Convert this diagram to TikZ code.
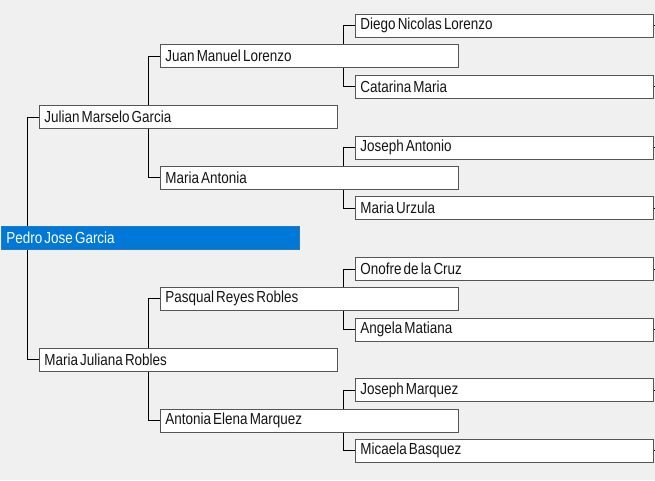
\documentclass[tikz,border=0pt]{standalone}
\usepackage{fontspec}
\setmainfont{Liberation Sans}[FakeStretch=0.84]
\definecolor{bgcol}{HTML}{F0F0F0}
\definecolor{boxline}{HTML}{555555}
\definecolor{selblue}{HTML}{0078D7}
\definecolor{txt}{HTML}{141414}
\pgfdeclarelayer{bg}
\pgfdeclarelayer{lines}
\pgfsetlayers{bg,lines,main}
\begin{document}
\begin{tikzpicture}[x=1pt,y=-1pt,
  pbox/.style={draw=boxline, line width=0.9pt, fill=white, anchor=west,
    minimum width=298pt, minimum height=23pt, text width=288pt,
    inner xsep=5pt, inner ysep=0pt, align=left, text=txt,
    font=\fontsize{16}{17}\selectfont,
    execute at begin node={\spaceskip=2.2pt\relax}},
  selbox/.style={pbox, fill=selblue, draw=selblue!70!gray, text=white},
  link/.style={draw=black, line width=0.9pt}]
\useasboundingbox (0,0) rectangle (655,480);
\begin{pgfonlayer}{bg}
  \fill[bgcol] (0,0) rectangle (655,480);
\end{pgfonlayer}
% generation 0
\node[selbox] (p) at (1,238) {Pedro Jose Garcia};
% generation 1
\node[pbox] (f) at (39,117) {Julian Marselo Garcia};
\node[pbox] (m) at (39,359.5) {Maria Juliana Robles};
% generation 2
\node[pbox] (ff) at (160,56) {Juan Manuel Lorenzo};
\node[pbox] (fm) at (160,177.5) {Maria Antonia};
\node[pbox] (mf) at (160,298.5) {Pasqual Reyes Robles};
\node[pbox] (mm) at (160,420.5) {Antonia Elena Marquez};
% generation 3
\node[pbox] (fff) at (355,25.5) {Diego Nicolas Lorenzo};
\node[pbox] (ffm) at (355,86.5) {Catarina Maria};
\node[pbox] (fmf) at (355,147.5) {Joseph Antonio};
\node[pbox] (fmm) at (355,208) {Maria Urzula};
\node[pbox] (mff) at (355,269) {Onofre de la Cruz};
\node[pbox] (mfm) at (355,329.5) {Angela Matiana};
\node[pbox] (mmf) at (355,390) {Joseph Marquez};
\node[pbox] (mmm) at (355,450.5) {Micaela Basquez};
\begin{pgfonlayer}{lines}
  \draw[link] (f.west) -- ++(-12,0) coordinate (pc) |- (m.west);
  \draw[link] (ff.west) -- ++(-12,0) |- (fm.west);
  \draw[link] (mf.west) -- ++(-12,0) |- (mm.west);
  \draw[link] (fff.west) -- ++(-12,0) |- (ffm.west);
  \draw[link] (fmf.west) -- ++(-12,0) |- (fmm.west);
  \draw[link] (mff.west) -- ++(-12,0) |- (mfm.west);
  \draw[link] (mmf.west) -- ++(-12,0) |- (mmm.west);
\end{pgfonlayer}
\foreach \n in {fff,ffm,fmf,fmm,mff,mfm,mmf,mmm}
  \draw[link] (\n.east) -- ++(3,0);
\end{tikzpicture}
\end{document}
